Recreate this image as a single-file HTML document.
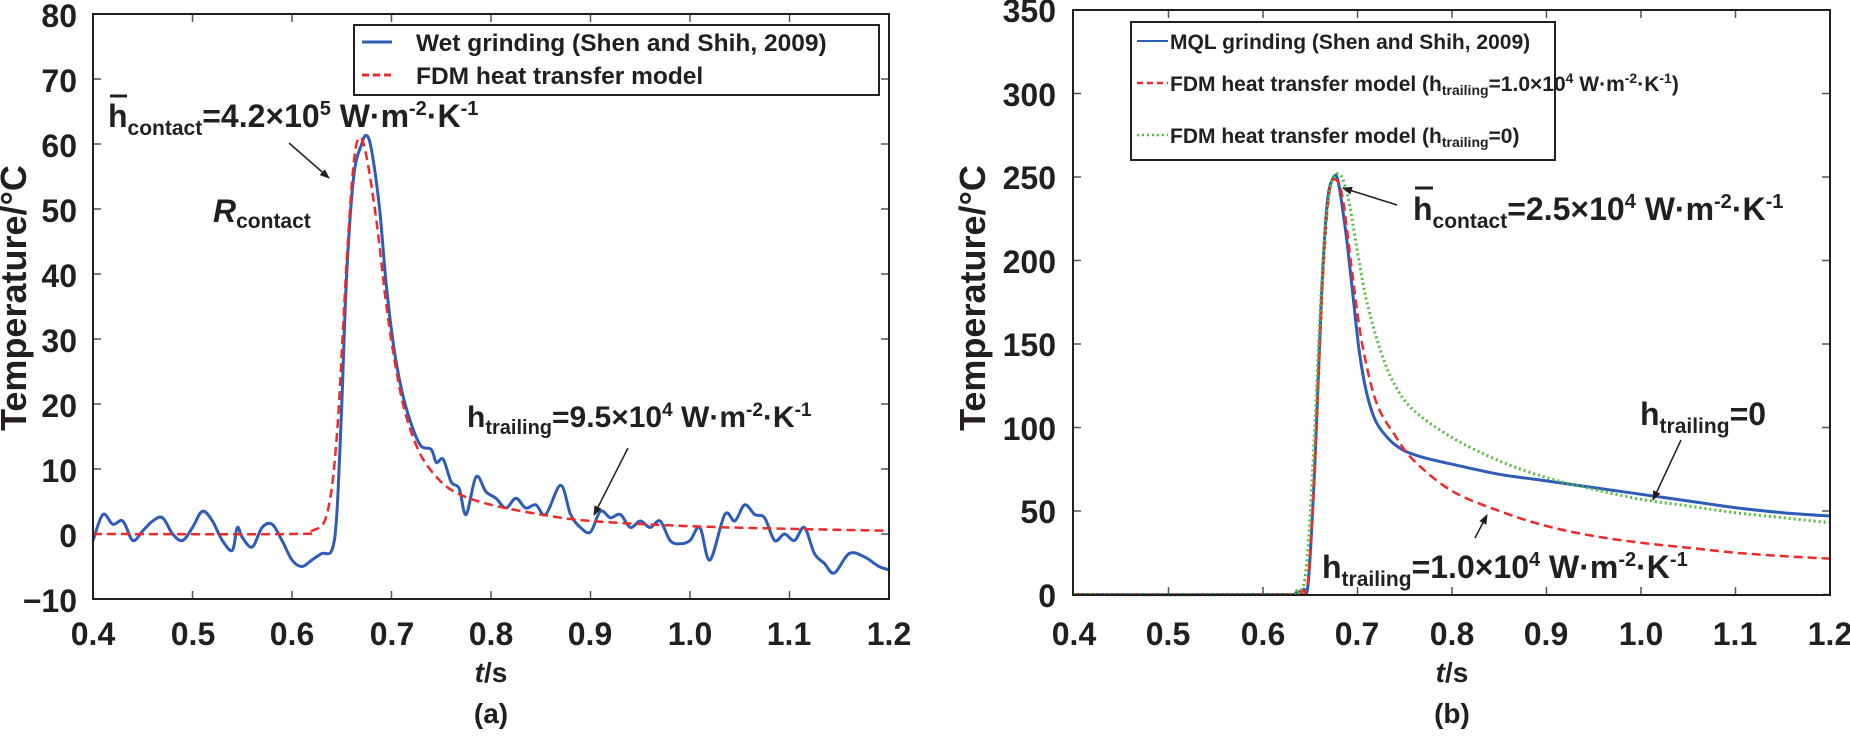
<!DOCTYPE html>
<html><head><meta charset="utf-8"><style>
html,body{margin:0;padding:0;background:#fff;}
svg{display:block;font-family:"Liberation Sans",Arial,sans-serif;font-weight:bold;fill:#231f20;}
</style></head><body>
<svg id="s" width="1850" height="737" viewBox="0 0 1850 737" xmlns="http://www.w3.org/2000/svg">
<defs><marker id="ar" markerWidth="10" markerHeight="8" refX="9" refY="4" orient="auto" markerUnits="userSpaceOnUse"><path d="M0,0 L10,4 L0,8 z" fill="#231f20"/></marker></defs>
<g id="g"></g>
<!-- left axes -->
<rect x="93" y="14" width="796" height="585" fill="none" stroke="#231f20" stroke-width="2"/>
<g font-size="32" text-anchor="end">
<text x="77" y="27">80</text><text x="77" y="92">70</text><text x="77" y="157">60</text><text x="77" y="222">50</text><text x="77" y="287">40</text><text x="77" y="352">30</text><text x="77" y="417">20</text><text x="77" y="482">10</text><text x="77" y="547">0</text><text x="77" y="612">−10</text>
</g>
<g font-size="32" text-anchor="middle">
<text x="93" y="645">0.4</text><text x="193" y="645">0.5</text><text x="292" y="645">0.6</text><text x="392" y="645">0.7</text><text x="491" y="645">0.8</text><text x="590" y="645">0.9</text><text x="690" y="645">1.0</text><text x="789" y="645">1.1</text><text x="889" y="645">1.2</text>
<text x="491" y="682" font-size="28"><tspan font-style="italic">t</tspan>/s</text>
<text x="491" y="723" font-size="28">(a)</text>
<text transform="translate(26,298) rotate(-90)" font-size="36">Temperature/°C</text>
</g>
<!-- right axes -->
<rect x="1073" y="10" width="757" height="585" fill="none" stroke="#231f20" stroke-width="2"/>
<g font-size="32" text-anchor="end">
<text x="1056" y="22">350</text><text x="1056" y="106">300</text><text x="1056" y="189">250</text><text x="1056" y="273">200</text><text x="1056" y="356">150</text><text x="1056" y="440">100</text><text x="1056" y="523">50</text><text x="1056" y="607">0</text>
</g>
<g font-size="32" text-anchor="middle">
<text x="1074" y="645">0.4</text><text x="1168" y="645">0.5</text><text x="1263" y="645">0.6</text><text x="1357" y="645">0.7</text><text x="1452" y="645">0.8</text><text x="1546" y="645">0.9</text><text x="1641" y="645">1.0</text><text x="1735" y="645">1.1</text><text x="1830" y="645">1.2</text>
<text x="1452" y="682" font-size="28"><tspan font-style="italic">t</tspan>/s</text>
<text x="1452" y="723" font-size="28">(b)</text>
<text transform="translate(985,298) rotate(-90)" font-size="36">Temperature/°C</text>
</g>
<!-- left legend -->
<rect x="354" y="25" width="525" height="70" fill="#fff" stroke="#231f20" stroke-width="2"/>
<line x1="362" y1="42" x2="392" y2="42" stroke="#2e5cb8" stroke-width="3"/>
<line x1="362" y1="75" x2="392" y2="75" stroke="#ee2a2a" stroke-width="3" stroke-dasharray="7,4"/>
<text x="416" y="51" font-size="24.5">Wet grinding (Shen and Shih, 2009)</text>
<text x="416" y="84" font-size="24.5">FDM heat transfer model</text>
<!-- right legend -->
<rect x="1131" y="22" width="424" height="138" fill="#fff" stroke="#231f20" stroke-width="2"/>
<line x1="1137" y1="41" x2="1168" y2="41" stroke="#2e5cb8" stroke-width="2"/>
<line x1="1137" y1="83" x2="1168" y2="83" stroke="#ee2a2a" stroke-width="2.5" stroke-dasharray="6,4"/>
<line x1="1137" y1="135" x2="1168" y2="135" stroke="#4fbf3a" stroke-width="2.5" stroke-dasharray="2,3"/>
<text x="1170" y="49" font-size="21">MQL grinding (Shen and Shih, 2009)</text>
<text x="1170" y="91" font-size="21">FDM heat transfer model (h<tspan font-size="14" dy="4">trailing</tspan><tspan dy="-4">=1.0×10</tspan><tspan font-size="14" dy="-8">4</tspan><tspan dy="8"> W·m</tspan><tspan font-size="14" dy="-8">-2</tspan><tspan dy="8">·K</tspan><tspan font-size="14" dy="-8">-1</tspan><tspan dy="8">)</tspan></text>
<text x="1170" y="143" font-size="21">FDM heat transfer model (h<tspan font-size="14" dy="4">trailing</tspan><tspan dy="-4">=0)</tspan></text>
<!-- annotations left -->
<line x1="110" y1="96" x2="127" y2="96" stroke="#231f20" stroke-width="3"/>
<text x="108" y="127" font-size="32">h<tspan font-size="21" dy="8">contact</tspan><tspan dy="-8">=4.2×10</tspan><tspan font-size="20" dy="-12">5</tspan><tspan dy="12"> W·m</tspan><tspan font-size="20" dy="-12">-2</tspan><tspan dy="12">·K</tspan><tspan font-size="20" dy="-12">-1</tspan></text>
<line x1="289" y1="143" x2="329" y2="178" stroke="#231f20" stroke-width="1.5" marker-end="url(#ar)"/>
<text x="213" y="222" font-size="32"><tspan font-style="italic">R</tspan><tspan font-size="21" dy="6">contact</tspan></text>
<text x="467" y="427" font-size="30">h<tspan font-size="20" dy="7">trailing</tspan><tspan dy="-7">=9.5×10</tspan><tspan font-size="19" dy="-11">4</tspan><tspan dy="11"> W·m</tspan><tspan font-size="19" dy="-11">-2</tspan><tspan dy="11">·K</tspan><tspan font-size="19" dy="-11">-1</tspan></text>
<line x1="628" y1="448" x2="594" y2="515" stroke="#231f20" stroke-width="1.5" marker-end="url(#ar)"/>
<!-- annotations right -->
<line x1="1415" y1="188" x2="1433" y2="188" stroke="#231f20" stroke-width="3"/>
<text x="1413" y="220" font-size="32">h<tspan font-size="21" dy="8">contact</tspan><tspan dy="-8">=2.5×10</tspan><tspan font-size="20" dy="-12">4</tspan><tspan dy="12"> W·m</tspan><tspan font-size="20" dy="-12">-2</tspan><tspan dy="12">·K</tspan><tspan font-size="20" dy="-12">-1</tspan></text>
<line x1="1397" y1="205" x2="1343" y2="188" stroke="#231f20" stroke-width="1.5" marker-end="url(#ar)"/>
<text x="1322" y="578" font-size="32">h<tspan font-size="21" dy="8">trailing</tspan><tspan dy="-8">=1.0×10</tspan><tspan font-size="20" dy="-12">4</tspan><tspan dy="12"> W·m</tspan><tspan font-size="20" dy="-12">-2</tspan><tspan dy="12">·K</tspan><tspan font-size="20" dy="-12">-1</tspan></text>
<line x1="1475" y1="538" x2="1487" y2="515" stroke="#231f20" stroke-width="1.5" marker-end="url(#ar)"/>
<text x="1640" y="425" font-size="32">h<tspan font-size="21" dy="8">trailing</tspan><tspan dy="-8">=0</tspan></text>
<line x1="1681" y1="440" x2="1653" y2="500" stroke="#231f20" stroke-width="1.5" marker-end="url(#ar)"/>
</svg>
<script>
(function(){
var g=document.getElementById('g'),NS='http://www.w3.org/2000/svg';
function add(tag,a){var e=document.createElementNS(NS,tag);for(var k in a)e.setAttribute(k,a[k]);g.appendChild(e);return e;}
var L=[];for(var i=1;i<8;i++){var x=93+i*99.5;L.push('M'+x+',599v-8M'+x+',14v8');}
for(var v=-10;v<=80;v+=10){var y=599-(v+10)*6.5;L.push('M93,'+y+'h8M889,'+y+'h-8');}
for(var i=1;i<8;i++){var x=1074+i*94.5;L.push('M'+x+',595v-8M'+x+',10v8');}
for(var v=0;v<=350;v+=50){var y=594.5-v*1.67;L.push('M1073,'+y+'h8M1830,'+y+'h-8');}
add('path',{d:L.join(''),stroke:'#555',fill:'none','stroke-width':1.5});
function smooth(pts){var d='M'+pts[0][0].toFixed(1)+','+pts[0][1].toFixed(1);
for(var i=0;i<pts.length-1;i++){var p0=pts[i-1]||pts[i],p1=pts[i],p2=pts[i+1],p3=pts[i+2]||p2;
d+='C'+(p1[0]+(p2[0]-p0[0])/6).toFixed(1)+','+(p1[1]+(p2[1]-p0[1])/6).toFixed(1)+' '+(p2[0]-(p3[0]-p1[0])/6).toFixed(1)+','+(p2[1]-(p3[1]-p1[1])/6).toFixed(1)+' '+p2[0].toFixed(1)+','+p2[1].toFixed(1);}return d;}
function LX(t){return 93+(t-0.4)*995} function LY(v){return 599-(v+10)*6.5}
function RX(t){return 1074+(t-0.4)*945} function RY(v){return 594.5-v*1.67}
var rd=[[0.4,0],[0.6,0],[0.62,0.5],[0.635,3],[0.645,15],[0.655,42],[0.662,57],[0.668,61],[0.675,58],[0.685,48],[0.695,35],[0.705,25],[0.715,18],[0.73,12],[0.75,8],[0.77,6],[0.8,4.5],[0.85,3],[0.9,2],[1.0,1.2],[1.1,0.8],[1.2,0.5]];
var bd=[[0.4,-1],[0.41,3],[0.42,1.5],[0.43,2],[0.44,-1],[0.45,0.5],[0.46,2],[0.47,2.5],[0.48,0],[0.49,-1],[0.5,1],[0.51,3.5],[0.52,2],[0.53,-1],[0.54,-2.5],[0.545,1],[0.55,-0.5],[0.56,-2],[0.57,1],[0.58,1.5],[0.59,-1],[0.6,-4],[0.61,-5],[0.62,-4],[0.63,-3],[0.64,-2.5],[0.645,3],[0.65,20],[0.655,40],[0.662,55],[0.67,60],[0.675,61.3],[0.68,59],[0.688,50],[0.695,38],[0.703,28],[0.712,21],[0.722,16],[0.73,13.5],[0.74,13],[0.745,11],[0.752,11.5],[0.76,8],[0.768,7],[0.775,3],[0.785,8.8],[0.795,6.5],[0.805,5.5],[0.815,4],[0.825,5.5],[0.835,4],[0.845,4.5],[0.855,3],[0.87,7.5],[0.88,3],[0.89,1],[0.9,0.3],[0.91,3.5],[0.92,2.5],[0.93,3],[0.94,1],[0.95,2],[0.96,1],[0.97,2],[0.98,-1],[0.99,-1.5],[1.0,-1],[1.01,1],[1.02,-4],[1.035,3],[1.045,2],[1.055,4.5],[1.065,3],[1.075,2.5],[1.085,-1],[1.095,0],[1.105,-1],[1.115,1],[1.125,-3],[1.135,-4.5],[1.145,-6],[1.16,-3],[1.175,-3.5],[1.19,-5],[1.2,-5.5]];
add('path',{d:smooth(bd.map(function(p){return[LX(p[0]),LY(p[1])]})),fill:'none',stroke:'#2e5cb8','stroke-width':3});
add('path',{d:smooth(rd.map(function(p){return[LX(p[0]),LY(p[1])]})),fill:'none',stroke:'#ee2a2a','stroke-width':2.5,'stroke-dasharray':'9,5'});
function mk(arr){return smooth(arr.map(function(p){return[RX(p[0]),RY(p[1])]}));}
var rb=[[0.4,0],[0.62,0],[0.635,1],[0.643,3],[0.648,8],[0.655,80],[0.662,180],[0.668,235],[0.675,250],[0.68,246],[0.688,215],[0.695,180],[0.702,145],[0.71,120],[0.72,103],[0.735,92],[0.75,86],[0.77,82],[0.8,78],[0.85,72],[0.9,68],[0.95,64],[1.0,60],[1.05,56],[1.1,52],[1.15,49],[1.2,47]];
var rr=[[0.4,0],[0.625,0],[0.64,2],[0.648,10],[0.655,80],[0.663,185],[0.67,240],[0.678,248],[0.685,235],[0.695,190],[0.705,150],[0.72,115],[0.74,95],[0.76,80],[0.8,62],[0.85,50],[0.9,41],[0.95,35],[1.0,31],[1.05,28],[1.1,25],[1.15,23],[1.2,21.5]];
var rg=[[0.4,0],[0.62,0],[0.635,2],[0.645,12],[0.653,80],[0.662,185],[0.67,240],[0.68,252],[0.69,238],[0.7,205],[0.71,175],[0.725,145],[0.74,125],[0.76,110],[0.8,94],[0.85,80],[0.9,70],[0.95,63],[1.0,57],[1.05,53],[1.1,49],[1.15,46],[1.2,43]];
add('path',{d:mk(rb),fill:'none',stroke:'#2e5cb8','stroke-width':3});
add('path',{d:mk(rr),fill:'none',stroke:'#ee2a2a','stroke-width':2.5,'stroke-dasharray':'9,5'});
add('path',{d:mk(rg),fill:'none',stroke:'#4fbf3a','stroke-width':3,'stroke-dasharray':'2,3'});
})();
</script>
</body></html>
